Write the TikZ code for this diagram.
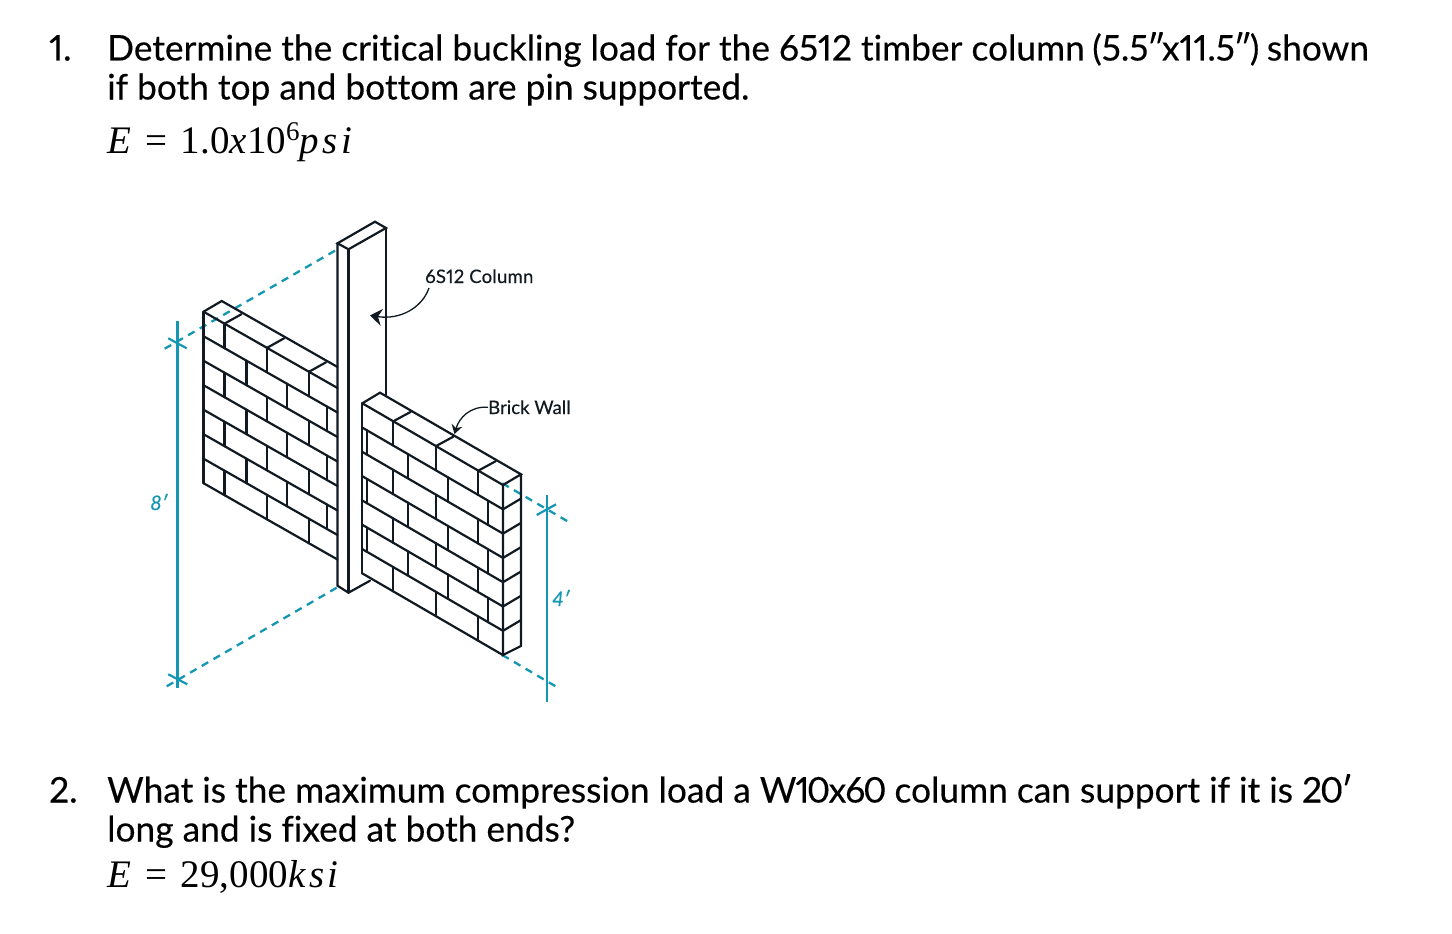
\documentclass[tikz,border=0pt]{standalone}
\usepackage{fontspec}
\setmainfont[RawFeature={-liga},Numbers=Proportional,FakeBold=0.25]{Lato}
\newfontfamily\mathserif{Liberation Serif}
\definecolor{ink}{HTML}{111A22}
\definecolor{teal}{HTML}{1497B3}
\usetikzlibrary{arrows.meta}
\tikzset{
  body/.style={anchor=base west,inner sep=0pt,font=\fontsize{35.3}{35.3}\selectfont,text=black},
  eqn/.style={anchor=base west,inner sep=0pt,font=\mathserif\fontsize{39}{39}\selectfont,text=black},
  lbl/.style={anchor=base west,inner sep=0pt,font=\fontsize{18.6}{18.6}\selectfont,text=ink},
  dimtext/.style={anchor=center,inner sep=0pt,font=\itshape\fontsize{20}{20}\selectfont,text=teal},
  line/.style={draw=ink,line width=2.2pt,line join=miter,line cap=round},
  dimline/.style={draw=teal,line width=2.2pt},
  dimdash/.style={draw=teal,line width=2.3pt,dash pattern=on 7.5pt off 6pt},
  leader/.style={draw=ink,line width=1.3pt,-{Stealth[length=12pt,width=17pt,inset=4pt]}},
  leadersmall/.style={draw=ink,line width=1.3pt,-{Stealth[length=9pt,width=11pt,inset=3pt]}},
}
\begin{document}
\begin{tikzpicture}[x=1pt,y=-1pt]
\useasboundingbox[fill=white] (0,0) rectangle (1452,934);
% texts
\node[body] (n1) at (49,60.5) {1.};
\node[body] (t1) at (107,60.5) {Determine the critical buckling load for the 6512 timber column\kern-1.5pt{} (5.5\kern-1.5pt″\kern-3.5pt x11.5\kern-1.5pt″\kern-2pt)\kern-1.5pt{} shown};
\node[body] (t2) at (107,99.5) {if both top and bottom are pin supported.};
\node[eqn] (e1) at (107,153) {\itshape E\hspace{14pt}\upshape =\hspace{14pt}1.0\itshape x\upshape 10\raisebox{13pt}{\fontsize{27}{27}\selectfont 6}{\itshape\addfontfeature{LetterSpace=9}psi}};
\node[body] (n2) at (49,802.5) {2.};
\node[body] (t3) at (107,802.5) {What is the maximum compression load a W\kern-1pt 1\kern-2.5pt 0\kern-1.5pt x\kern-1pt 6\kern-2pt 0\kern-1pt{} column can support if it is 2\kern-2pt 0\kern-2pt ′};
\node[body] (t4) at (107,841.5) {long and is fixed at both ends?};
\node[eqn] (e2) at (107,887) {\itshape E\hspace{14pt}\upshape =\hspace{14pt}29,000{\itshape\addfontfeature{LetterSpace=9}ksi}};
% teal dims
\draw[dimdash] (335,250.7) -- (160.7,351);
\draw[dimdash] (336.7,587.7) -- (166,686.7);
\draw[dimdash] (502.3,483.3) -- (570,522.7);
\draw[dimdash] (502.3,655) -- (559,688.3);
\draw[dimline] (177.5,321) -- (177.5,688);
\draw[dimline] (168.3,338.3) -- (186.7,348.3);
\draw[dimline] (168.3,674.3) -- (187.3,684.3);
\draw[dimline] (546.7,495) -- (546.7,701.7);
\draw[dimline] (536.7,515) -- (556,504.3);
% left wall
\foreach \k in {0,...,7} \draw[line] (203.5,{311.7+24.5*\k}) -- (337.5,{388+24.5*\k});
\draw[line] (203.5,311.7) -- (203.5,483.2);
\draw[line] (203.5,311.7) -- (221.7,301) -- (337.5,367);
\foreach \x in {224.5,267,309} {
  \draw[line] (\x,{311.7+(\x-203.5)*0.5694}) -- ++(17,-9.5);
  \foreach \k in {0,2,4,6} \draw[line] (\x,{311.7+(\x-203.5)*0.5694+24.5*\k}) -- ++(0,24.5);
}
\foreach \x in {246.5,287,327} \foreach \k in {1,3,5} \draw[line] (\x,{311.7+(\x-203.5)*0.5694+24.5*\k}) -- ++(0,24.5);
% column
\draw[line] (348.5,249.3) -- (337.5,243.3) -- (375,221.7) -- (386,228) -- (348.5,249.3);
\draw[line] (337.5,243.3) -- (337.5,585.7) -- (348.5,592.7) -- (370,580.7);
\draw[line] (348.5,249.3) -- (348.5,592.7);
\draw[line] (386,228) -- (386,395);
% right wall
\foreach \k in {0,...,7} \draw[line] (362.3,{403.3+24.3*\k}) -- (503,{485+24.3*\k});
\draw[line] (362.3,403.3) -- (362.3,573.4);
\draw[line] (362.3,403.3) -- (380,392.7) -- (521,474.3) -- (503,485) -- (503,655) -- (521,646) -- (521,474.3);
\foreach \k in {1,...,6} \draw[line] (503,{485+24.3*\k}) -- (521,{474.3+24.3*\k});
\foreach \x in {393.3,436,478.3} {
  \draw[line] (\x,{403.3+(\x-362.3)*0.5806}) -- ++(17.5,-9.5);
  \foreach \k in {0,2,4,6} \draw[line] (\x,{403.3+(\x-362.3)*0.5806+24.3*\k}) -- ++(0,24.3);
}
\foreach \x in {367.3,407.7,447.7,488.3} \foreach \k in {1,3,5} \draw[line] (\x,{403.3+(\x-362.3)*0.5806+24.3*\k}) -- ++(0,24.3);
% labels
\node[lbl] (col) at (425,283) {\addfontfeature{LetterSpace=1.0}6S12 Column};
\node[lbl] (bw) at (488,414) {Brick Wall};
\node[dimtext] (d8) at (159,502) {8′};
\node[dimtext] (d4) at (561,598) {4′};
\coordinate (cs) at (429,288);
\coordinate (ca) at (370,315.5);
\coordinate (ba) at (454.5,434);
\draw[leader] (cs) .. controls (422,308) and (400,320) .. (ca);
\draw[leadersmall] (bw.west) .. controls (470,406) and (459,418) .. (ba);
\end{tikzpicture}
\end{document}
